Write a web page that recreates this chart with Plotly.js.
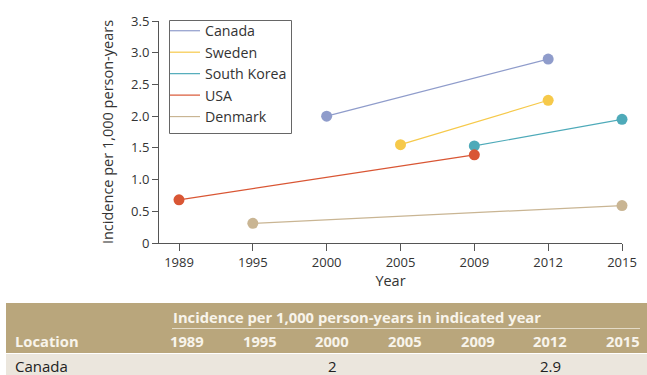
<!DOCTYPE html>
<html>
<head>
<meta charset="utf-8">
<script src="https://cdn.plot.ly/plotly-3.0.1.min.js"></script>
<style>html,body{margin:0;padding:0;background:#fff;}#chart{width:647px;height:375px;}</style>
</head>
<body>
<div id="chart"></div>
<script>
// ---- data ----
const years = ['1989', '1995', '2000', '2005', '2009', '2012', '2015'];
const yTickVals = [0, 0.5, 1, 1.5, 2, 2.5, 3, 3.5];
const yTickText = ['0', '0.5', '1.0', '1.5', '2.0', '2.5', '3.0', '3.5'];

const seriesNames = ['Canada', 'Sweden', 'South Korea', 'USA', 'Denmark'];
const canadaYears = ['2000', '2012'];
const canadaVals = [2.0, 2.9];
const swedenYears = ['2005', '2012'];
const swedenVals = [1.55, 2.25];
const koreaYears = ['2009', '2015'];
const koreaVals = [1.53, 1.95];
const usaYears = ['1989', '2009'];
const usaVals = [0.68, 1.39];
const denmarkYears = ['1995', '2015'];
const denmarkVals = [0.31, 0.59];

const tableTitle = 'Incidence per 1,000 person-years in indicated year';
const tableFirstCol = 'Location';
const tableRows = [{ name: 'Canada', years: canadaYears, vals: canadaVals }];

// ---- style ----
const colors = ['#8f9ccb', '#f6c94a', '#4eaab9', '#d95634', '#c9b593'];
const FONT = '"Open Sans", "Noto Sans", sans-serif';
const W = 647, H = 375;
const L = 159, R = 0, T = 21, B = 132;
const PW = W - L - R, PH = H - T - B;
const AX_RIGHT = 622;                       // pixel where the x axis ends
const xp = px => (px - L) / PW;
const yp = py => (H - B - py) / PH;

const seriesX = [canadaYears, swedenYears, koreaYears, usaYears, denmarkYears];
const seriesY = [canadaVals, swedenVals, koreaVals, usaVals, denmarkVals];

const traces = [];
seriesNames.forEach((n, i) => {
  traces.push({
    x: seriesX[i], y: seriesY[i], name: n, type: 'scatter', mode: 'lines',
    line: { color: colors[i], width: 1.2 }, cliponaxis: false, showlegend: true
  });
});
seriesNames.forEach((n, i) => {
  traces.push({
    x: seriesX[i], y: seriesY[i], name: n, type: 'scatter', mode: 'markers',
    marker: { color: colors[i], size: 11 }, cliponaxis: false, showlegend: false
  });
});

// ---- table ----
const headColor = '#f8f4eb';
const shapes = [
  // legend frame
  { type: 'rect', xref: 'paper', yref: 'paper', x0: xp(169.5), x1: xp(291.5), y0: yp(20.5), y1: yp(133.5),
    fillcolor: '#fff', line: { color: '#666', width: 1 }, layer: 'below' },
  // table header band and row band
  { type: 'rect', xref: 'paper', yref: 'paper', x0: xp(6), x1: xp(W + 2), y0: yp(303), y1: yp(353),
    fillcolor: '#b9a67c', line: { width: 0 }, layer: 'below' },
  { type: 'rect', xref: 'paper', yref: 'paper', x0: xp(6), x1: xp(W + 2), y0: yp(354), y1: yp(H + 2),
    fillcolor: '#ebe6dd', line: { width: 0 }, layer: 'below' },
  { type: 'line', xref: 'paper', yref: 'paper', x0: xp(172), x1: xp(640), y0: yp(328.5), y1: yp(328.5),
    line: { color: '#e4dbc7', width: 1 } }
];
const headFont = { family: FONT, size: 14.75, color: headColor, weight: 'bold' };
const cellFont = { family: FONT, size: 15, color: '#222' };
const annotations = [
  { xref: 'paper', yref: 'paper', x: xp(171), y: yp(317), xanchor: 'left', yanchor: 'middle',
    text: tableTitle, showarrow: false, font: headFont },
  { xref: 'paper', yref: 'paper', x: xp(13), y: yp(341), xanchor: 'left', yanchor: 'middle',
    text: tableFirstCol, showarrow: false, font: headFont }
];
years.forEach((yr, i) => {
  annotations.push({ xref: 'x2', yref: 'paper', x: i, y: yp(341), xanchor: 'center', yanchor: 'middle',
    text: yr, showarrow: false, font: headFont });
});
tableRows.forEach((row, r) => {
  const cy = yp(366 + r * 21);
  annotations.push({ xref: 'paper', yref: 'paper', x: xp(13), y: cy, xanchor: 'left', yanchor: 'middle',
    text: row.name, showarrow: false, font: cellFont });
  row.years.forEach((yr, j) => {
    annotations.push({ xref: 'x2', yref: 'paper', x: years.indexOf(yr), y: cy, xanchor: 'center', yanchor: 'middle',
      text: String(row.vals[j]), showarrow: false, font: cellFont });
  });
});

const COL0 = 187, COLSTEP = 72.67;          // table column centres in pixels
const layout = {
  width: W, height: H,
  margin: { l: L, r: R, t: T, b: B, pad: 0 },
  paper_bgcolor: '#fff', plot_bgcolor: 'rgba(0,0,0,0)',
  font: { family: FONT, size: 13, color: '#333' },
  showlegend: true,
  legend: {
    x: xp(165), y: yp(15), xanchor: 'left', yanchor: 'top',
    bgcolor: 'rgba(0,0,0,0)', borderwidth: 0,
    font: { family: FONT, size: 14.2, color: '#333' }
  },
  xaxis: {
    type: 'category', categoryorder: 'array', categoryarray: years,
    tickvals: years, ticktext: years,
    domain: [0, xp(AX_RIGHT)],
    range: [(L - 179) / ((AX_RIGHT - 179) / 6), 6],
    showgrid: false, zeroline: false, showline: true, linecolor: '#555', linewidth: 1,
    ticks: 'outside', ticklen: 7, tickcolor: '#555',
    tickfont: { family: FONT, size: 13, color: '#333' },
    title: { text: 'Year', font: { family: FONT, size: 14.5, color: '#333' }, standoff: 5 },
    fixedrange: true
  },
  xaxis2: {
    anchor: 'y', visible: false, type: 'linear', domain: [0, 1],
    showline: false, showgrid: false, zeroline: false, showticklabels: false, ticks: '',
    range: [(L - COL0) / COLSTEP, (W - COL0) / COLSTEP], fixedrange: true
  },
  yaxis: {
    range: [0, 3.5], tickvals: yTickVals, ticktext: yTickText,
    showgrid: false, zeroline: false, showline: true, linecolor: '#555', linewidth: 1,
    ticks: 'outside', ticklen: 6, tickcolor: '#555',
    tickfont: { family: FONT, size: 13, color: '#333' },
    title: { text: 'Incidence per 1,000 person-years', font: { family: FONT, size: 14.5, color: '#333' }, standoff: 14 },
    fixedrange: true
  },
  shapes: shapes,
  annotations: annotations
};

Plotly.newPlot('chart', traces, layout, { displayModeBar: false, staticPlot: true });
</script>
</body>
</html>
